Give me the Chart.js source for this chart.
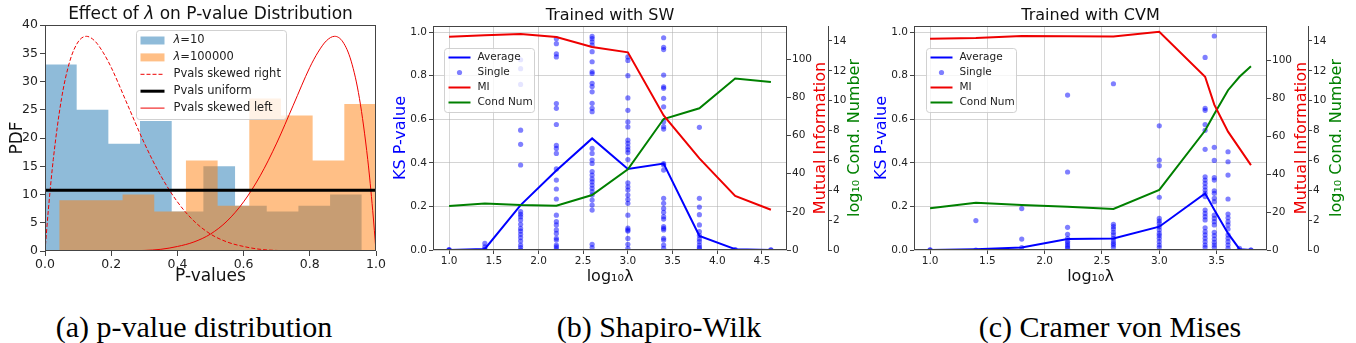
<!DOCTYPE html>
<html>
<head>
<meta charset="utf-8">
<script src="https://cdn.jsdelivr.net/npm/chart.js@4.4.1/dist/chart.umd.min.js"></script>
<style>
  body { margin: 0; background: #fff; width: 1356px; height: 343px; position: relative; overflow: hidden; }
  canvas { position: absolute; top: 0; }
  .cap { position: absolute; top: 311px; line-height: 32px; font-family: "Liberation Serif", serif; font-size: 30px; color: #000; white-space: nowrap; transform: translateX(-50%); }
</style>
</head>
<body>
<canvas id="chartA" width="400" height="300" style="left:0px"></canvas>
<canvas id="chartB" width="482" height="300" style="left:388px"></canvas>
<canvas id="chartC" width="486" height="300" style="left:870px"></canvas>
<div class="cap" style="left:194px">(a) p-value distribution</div>
<div class="cap" style="left:659px">(b) Shapiro-Wilk</div>
<div class="cap" style="left:1110px">(c) Cramer von Mises</div>
<script>
// ---------- (a) p-value distribution ----------
// histogram bin edges and heights
var blueEdges = [0.0, 0.0957, 0.1914, 0.2871, 0.3828, 0.4785, 0.5742, 0.6699, 0.7656, 0.8613, 0.957];
var blueCounts = [33, 25, 19, 23, 7, 15, 8, 7, 8, 10];
var orangeEdges = [0.043, 0.1387, 0.2344, 0.3301, 0.4258, 0.5215, 0.6172, 0.7129, 0.8086, 0.9043, 1.0];
var orangeCounts = [9, 9, 10, 7, 16, 8, 27, 24, 16, 26];

// reference curves
var curveX = [0, 0.01, 0.025, 0.05, 0.075, 0.1, 0.125, 0.15, 0.175, 0.2, 0.25, 0.3, 0.35, 0.4, 0.45, 0.5,
              0.55, 0.6, 0.65, 0.7, 0.75, 0.8, 0.825, 0.85, 0.875, 0.9, 0.925, 0.95, 0.975, 0.99, 1.0];
var skewRight = [0, 7.2, 16.2, 27.0, 33.6, 37.0, 38.0, 37.2, 35.2, 32.5, 25.8, 19.1, 13.3, 8.7, 5.3, 3.0,
                 1.6, 0.8, 0.3, 0.1, 0.04, 0.01, 0, 0, 0, 0, 0, 0, 0, 0, 0];
var skewLeft = [0, 0, 0, 0, 0, 0, 0, 0, 0, 0.01, 0.04, 0.1, 0.3, 0.8, 1.6, 3.0,
                5.3, 8.7, 13.3, 19.1, 25.8, 32.5, 35.2, 37.2, 38.0, 37.0, 33.6, 27.0, 16.2, 7.2, 0];
var uniformX = [0, 1];
var uniformY = [10.75, 10.75];

// ---------- (b) trained with SW ----------
var swLogLam = [1.0, 1.4, 1.8, 2.2, 2.6, 3.0, 3.4, 3.8, 4.2, 4.6];
var swAverage = [0.0, 0.005, 0.206, 0.365, 0.512, 0.372, 0.397, 0.064, 0.004, 0.0];
var swMI = [111.7, 112.4, 113.1, 111.5, 106.3, 103.5, 70.5, 48.0, 28.3, 21.1];
var swCond = [2.95, 3.12, 3.01, 2.97, 3.68, 5.40, 8.77, 9.49, 11.48, 11.25];
var swSingle = [
  [0.0, 0.0, 0.002],
  [0.03, 0.015, 0.004, 0.0],
  [0.873, 0.832, 0.76, 0.55, 0.485, 0.39, 0.176, 0.164, 0.153, 0.138, 0.118, 0.099, 0.087, 0.072, 0.057, 0.041, 0.023, 0.011, 0.0],
  [0.97, 0.947, 0.9, 0.886, 0.672, 0.65, 0.576, 0.48, 0.466, 0.443, 0.372, 0.321, 0.28, 0.234, 0.16, 0.13, 0.115, 0.092, 0.076, 0.054, 0.046, 0.023, 0.015, 0.005],
  [0.98, 0.97, 0.955, 0.94, 0.91, 0.864, 0.818, 0.81, 0.765, 0.75, 0.726, 0.673, 0.65, 0.635, 0.466, 0.443, 0.413, 0.397, 0.36, 0.344, 0.326, 0.313, 0.298, 0.283, 0.268, 0.252, 0.229, 0.206, 0.183, 0.026, 0.011],
  [0.886, 0.87, 0.8, 0.698, 0.641, 0.588, 0.565, 0.504, 0.49, 0.473, 0.46, 0.447, 0.415, 0.308, 0.29, 0.275, 0.252, 0.232, 0.214, 0.16, 0.1, 0.092, 0.087, 0.053, 0.026, 0.008],
  [0.974, 0.93, 0.92, 0.803, 0.749, 0.742, 0.696, 0.657, 0.589, 0.566, 0.555, 0.397, 0.39, 0.367, 0.237, 0.214, 0.191, 0.173, 0.153, 0.142, 0.107, 0.099, 0.092, 0.054, 0.046, 0.023, 0.008],
  [0.563, 0.237, 0.197, 0.162, 0.115, 0.084, 0.066, 0.05, 0.038, 0.023, 0.012, 0.005],
  [0.0, 0.002],
  [0.0, 0.001]
];

// ---------- (c) trained with CVM ----------
var cvmLogLam = [1.0, 1.4, 1.8, 2.2, 2.6, 3.0, 3.4, 3.48, 3.6, 3.7, 3.8];
var cvmAverage = [0.0, 0.004, 0.011, 0.05, 0.053, 0.107, 0.26, 0.185, 0.076, 0.004, 0.0];
var cvmMI = [111.2, 111.6, 112.6, 112.5, 112.4, 114.9, 91.2, 76.5, 62.3, 53.5, 44.7];
var cvmCond = [2.79, 3.17, 3.01, 2.9, 2.75, 4.02, 8.0, 9.1, 10.7, 11.6, 12.3];
var cvmSingle = [
  [0.0, 0.001],
  [0.135, 0.0],
  [0.19, 0.05, 0.011],
  [0.711, 0.358, 0.104, 0.072, 0.054, 0.04, 0.032, 0.023, 0.015, 0.008],
  [0.763, 0.118, 0.107, 0.096, 0.081, 0.069, 0.054, 0.041, 0.03, 0.023, 0.011],
  [0.57, 0.413, 0.387, 0.242, 0.145, 0.133, 0.122, 0.107, 0.092, 0.076, 0.066, 0.054, 0.038, 0.023, 0.011],
  [0.884, 0.65, 0.641, 0.576, 0.549, 0.462, 0.336, 0.321, 0.306, 0.29, 0.275, 0.26, 0.245, 0.183, 0.168, 0.153, 0.138, 0.102, 0.084, 0.069, 0.054, 0.038, 0.023, 0.011],
  [0.982, 0.471, 0.411, 0.332, 0.321, 0.272, 0.26, 0.237, 0.222, 0.16, 0.145, 0.13, 0.115, 0.081, 0.066, 0.05, 0.035, 0.023, 0.011],
  [0.451, 0.405, 0.344, 0.234, 0.165, 0.148, 0.13, 0.115, 0.096, 0.069, 0.054, 0.038, 0.023, 0.008],
  [0.008, 0.0],
  [0.0, 0.0]
];

var FONT = "'DejaVu Sans', sans-serif";
Chart.defaults.font.family = FONT;
Chart.defaults.color = "#222";
Chart.defaults.animation = false;
Chart.defaults.events = [];
Chart.defaults.plugins.legend.display = false;
Chart.defaults.plugins.tooltip.enabled = false;

var BLUE = "#0000ff", RED = "#ee0000", GREEN = "#008000";
var GRID = "rgba(176,176,176,0.55)", SPINE = "#444";

function fixW(w) { return function (s) { s.width = w; }; }
function fixH(h) { return function (s) { s.height = h; }; }
function oneDec(v) { return v.toFixed(1); }

// pair two arrays into {x, y} points
function pairs(xs, ys) {
  var out = [];
  for (var i = 0; i < xs.length; i++) out.push({ x: xs[i], y: ys[i] });
  return out;
}
// histogram outline: left edge of each bin + closing right edge
function histPoints(edges, counts) {
  var out = pairs(edges.slice(0, counts.length), counts);
  out.push({ x: edges[edges.length - 1], y: counts[counts.length - 1] });
  return out;
}
// one point for every single run in every column
function columnPoints(xs, cols) {
  var out = [];
  for (var i = 0; i < xs.length; i++)
    for (var j = 0; j < cols[i].length; j++) out.push({ x: xs[i], y: cols[i][j] });
  return out;
}

// text pieces, some italic, centred at (cx, cy)
function drawRuns(ctx, runs, cx, cy, size) {
  var total = 0;
  runs.forEach(function (r) {
    ctx.font = (r[1] ? "italic " : "") + size + "px " + FONT;
    total += ctx.measureText(r[0]).width;
  });
  var x = cx - total / 2;
  ctx.textBaseline = "middle";
  ctx.textAlign = "left";
  runs.forEach(function (r) {
    ctx.font = (r[1] ? "italic " : "") + size + "px " + FONT;
    ctx.fillText(r[0], x, cy);
    x += ctx.measureText(r[0]).width;
  });
}

function drawLegend(ctx, a, lg) {
  var x0 = Math.round(a.left + lg.left) + 0.5, y0 = Math.round(a.top + lg.top) + 0.5;
  ctx.save();
  ctx.fillStyle = "rgba(255,255,255,0.8)";
  ctx.strokeStyle = "rgba(204,204,204,0.9)";
  ctx.lineWidth = 1;
  ctx.beginPath();
  ctx.roundRect(x0, y0, lg.width, lg.height, 3);
  ctx.fill();
  ctx.stroke();
  lg.items.forEach(function (it, k) {
    var cy = y0 + lg.first + k * lg.step;
    var hx = x0 + lg.hx;
    if (it.kind === "patch") {
      ctx.fillStyle = it.color;
      ctx.fillRect(hx, cy - 4, lg.hw, 8);
    } else if (it.kind === "dot") {
      ctx.fillStyle = it.color;
      ctx.beginPath();
      ctx.arc(hx + lg.hw / 2, cy, 2.6, 0, 2 * Math.PI);
      ctx.fill();
    } else {
      ctx.strokeStyle = it.color;
      ctx.lineWidth = it.width;
      ctx.setLineDash(it.dash || []);
      ctx.beginPath();
      ctx.moveTo(hx, cy);
      ctx.lineTo(hx + lg.hw, cy);
      ctx.stroke();
      ctx.setLineDash([]);
    }
    ctx.fillStyle = "#222";
    var runs = it.text.charAt(0) === "λ" ? [["λ", true], [it.text.slice(1), false]] : [[it.text, false]];
    var x = x0 + lg.tx;
    ctx.textBaseline = "middle";
    runs.forEach(function (r) {
      ctx.font = (r[1] ? "italic " : "") + lg.size + "px " + FONT;
      ctx.fillText(r[0], x, cy);
      x += ctx.measureText(r[0]).width;
    });
  });
  ctx.restore();
}

// frame, panel title, right-hand axis titles and legend
function decor(cfg) {
  return {
    id: "decor",
    afterDraw: function (chart) {
      var ctx = chart.ctx, a = chart.chartArea;
      ctx.save();
      ctx.strokeStyle = SPINE;
      ctx.lineWidth = 1;
      ctx.strokeRect(Math.round(a.left) + 0.5, Math.round(a.top) + 0.5,
                     Math.round(a.right - a.left) - 1, Math.round(a.bottom - a.top) - 1);
      ctx.fillStyle = "#111";
      drawRuns(ctx, cfg.title, (a.left + a.right) / 2, a.top - cfg.titleGap, cfg.titleSize);
      (cfg.side || []).forEach(function (s) {
        ctx.save();
        ctx.translate(a.right + s.dx, (a.top + a.bottom) / 2);
        ctx.rotate(-Math.PI / 2);
        ctx.fillStyle = s.color;
        drawRuns(ctx, [[s.text, false]], 0, 0, 16);
        ctx.restore();
      });
      drawLegend(ctx, a, cfg.legend);
      ctx.restore();
    }
  };
}

// ================= panel (a) =================
new Chart(document.getElementById("chartA"), {
  type: "line",
  data: {
    datasets: [
      { label: "λ=10", data: histPoints(blueEdges, blueCounts), stepped: "before", fill: "origin",
        backgroundColor: "rgba(31,119,180,0.5)", borderWidth: 0, pointRadius: 0, order: 5 },
      { label: "λ=100000", data: histPoints(orangeEdges, orangeCounts), stepped: "before", fill: "origin",
        backgroundColor: "rgba(255,127,14,0.5)", borderWidth: 0, pointRadius: 0, order: 4 },
      { label: "Pvals skewed right", data: pairs(curveX, skewRight), borderColor: RED, borderWidth: 1,
        borderDash: [4, 2], pointRadius: 0, cubicInterpolationMode: "monotone", fill: false, order: 3 },
      { label: "Pvals skewed left", data: pairs(curveX, skewLeft), borderColor: RED, borderWidth: 1,
        pointRadius: 0, cubicInterpolationMode: "monotone", fill: false, order: 2 },
      { label: "Pvals uniform", data: pairs(uniformX, uniformY), borderColor: "#000", borderWidth: 3,
        pointRadius: 0, fill: false, order: 1 }
    ]
  },
  options: {
    responsive: false,
    layout: { padding: { left: 0, right: 24, top: 25, bottom: 0 } },
    scales: {
      x: {
        type: "linear", min: 0, max: 1,
        ticks: { stepSize: 0.2, callback: oneDec, font: { size: 12.5 }, padding: 1, maxRotation: 0 },
        grid: { drawOnChartArea: false, tickLength: 5, tickColor: SPINE },
        border: { display: false },
        title: { display: true, text: "P-values", color: "#111", font: { size: 17 }, padding: { top: 0, bottom: 13 } },
        afterFit: fixH(49)
      },
      y: {
        min: 0, max: 40,
        ticks: { stepSize: 5, font: { size: 12.5 }, padding: 2 },
        grid: { drawOnChartArea: false, tickLength: 5, tickColor: SPINE },
        border: { display: false },
        title: { display: true, text: "PDF", color: "#111", font: { size: 17 }, padding: { top: 7, bottom: 0 } },
        afterFit: fixW(45)
      }
    }
  },
  plugins: [decor({
    title: [["Effect of ", false], ["λ", true], [" on P-value Distribution", false]], titleSize: 17, titleGap: 10,
    legend: {
      left: 91, top: 5, width: 150, height: 89, first: 10, step: 16.9, hx: 4, hw: 24, tx: 37, size: 11.5,
      items: [
        { kind: "patch", color: "rgba(31,119,180,0.5)", text: "λ=10" },
        { kind: "patch", color: "rgba(255,127,14,0.5)", text: "λ=100000" },
        { kind: "line", color: RED, width: 1, dash: [4, 2], text: "Pvals skewed right" },
        { kind: "line", color: "#000", width: 3, text: "Pvals uniform" },
        { kind: "line", color: RED, width: 1, text: "Pvals skewed left" }
      ]
    }
  })]
});

// ================= panels (b) and (c) =================
function lambdaChart(id, xs, avg, single, mi, cond, o) {
  new Chart(document.getElementById(id), {
    type: "line",
    data: {
      datasets: [
        { label: "MI", data: pairs(xs, mi), yAxisID: "yMI", borderColor: RED, borderWidth: 2,
          pointRadius: 0, fill: false, order: 0 },
        { label: "Cond Num", data: pairs(xs, cond), yAxisID: "yCond", borderColor: GREEN, borderWidth: 2,
          pointRadius: 0, fill: false, order: 1 },
        { label: "Average", data: pairs(xs, avg), yAxisID: "y", borderColor: BLUE, borderWidth: 2,
          pointRadius: 0, fill: false, order: 2 },
        { label: "Single", data: columnPoints(xs, single), yAxisID: "y", showLine: false,
          pointRadius: 2.6, pointBorderWidth: 0, pointBackgroundColor: "rgba(0,0,255,0.5)", order: 3 }
      ]
    },
    options: {
      responsive: false,
      layout: { padding: { left: 0, right: 0, top: 26, bottom: 0 } },
      scales: {
        x: {
          type: "linear", min: o.xmin, max: o.xmax,
          ticks: { stepSize: 0.5, includeBounds: false, callback: oneDec, font: { size: 10.5 }, padding: 1, maxRotation: 0 },
          grid: { color: GRID, tickLength: 4, tickColor: SPINE },
          border: { display: false },
          title: { display: true, text: "log₁₀λ", color: "#111", font: { size: 16 }, padding: { top: 0, bottom: 14 } },
          afterFit: fixH(50)
        },
        y: {
          position: "left", min: 0, max: 1.028,
          ticks: { stepSize: 0.2, includeBounds: false, callback: oneDec, font: { size: 10.5 }, padding: 2 },
          grid: { color: GRID, tickLength: 4, tickColor: SPINE },
          border: { display: false },
          title: { display: true, text: "KS P-value", color: BLUE, font: { size: 16 }, padding: { top: o.ksPad, bottom: 0 } },
          afterFit: fixW(o.leftW)
        },
        yMI: {
          position: "right", weight: 0, min: 0, max: o.miMax,
          ticks: { stepSize: 20, includeBounds: false, font: { size: 10.5 }, padding: 1 },
          grid: { drawOnChartArea: false, tickLength: 4, tickColor: SPINE },
          border: { display: false },
          afterFit: fixW(41)
        },
        yCond: {
          position: "right", weight: 1, min: 0, max: 15,
          ticks: { stepSize: 2, includeBounds: false, font: { size: 10.5 }, padding: 1 },
          grid: { drawOnChartArea: false, tickLength: 4, tickColor: SPINE },
          border: { display: true, color: SPINE, width: 1 },
          afterFit: fixW(o.condW)
        }
      }
    },
    plugins: [decor({
      title: [[o.title, false]], titleSize: 16, titleGap: 10.4,
      side: [
        { text: "Mutual Information", color: RED, dx: o.miDx },
        { text: "log₁₀ Cond. Number", color: GREEN, dx: o.condDx }
      ],
      legend: {
        left: o.legLeft, top: 22, width: 90, height: 64, first: 9, step: 15, hx: 4, hw: 22, tx: 33, size: 10.5,
        items: [
          { kind: "line", color: BLUE, width: 2, text: "Average" },
          { kind: "dot", color: "rgba(0,0,255,0.5)", text: "Single" },
          { kind: "line", color: RED, width: 2, text: "MI" },
          { kind: "line", color: GREEN, width: 2, text: "Cond Num" }
        ]
      }
    })]
  });
}

lambdaChart("chartB", swLogLam, swAverage, swSingle, swMI, swCond, {
  title: "Trained with SW", xmin: 0.82, xmax: 4.78, miMax: 117.3, leftW: 45, condW: 42,
  ksPad: 3.4, miDx: 33.7, condDx: 68, legLeft: 11
});
lambdaChart("chartC", cvmLogLam, cvmAverage, cvmSingle, cvmMI, cvmCond, {
  title: "Trained with CVM", xmin: 0.86, xmax: 3.94, miMax: 117.9, leftW: 44, condW: 48,
  ksPad: 2.4, miDx: 34.7, condDx: 69.7, legLeft: 12
});
</script>
</body>
</html>
